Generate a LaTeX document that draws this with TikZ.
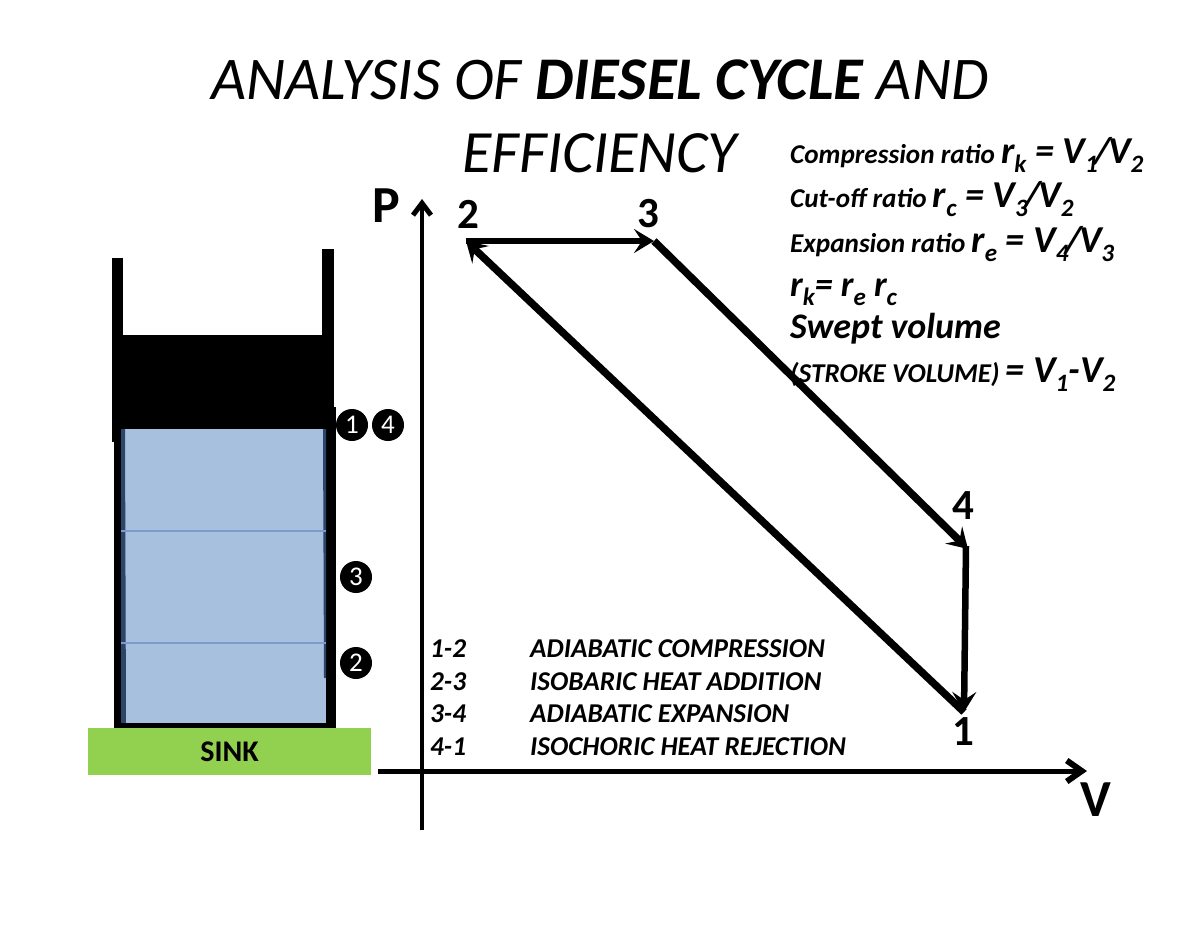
\documentclass[tikz,border=0pt]{standalone}
\usepackage{fontspec}
\setmainfont{Carlito}
\usetikzlibrary{arrows.meta}
\newcommand{\fsz}[1]{\fontsize{#1}{#1}\selectfont}
\newcommand{\sbs}[1]{\raisebox{-0.26em}{\fontsize{25}{25}\selectfont #1}}
\newcommand{\slsh}{\kern-3pt/\kern-3pt}
\definecolor{gasblue}{HTML}{A7C0DE}
\definecolor{gasline}{HTML}{7C9CCB}
\definecolor{walldark}{HTML}{2C4568}
\definecolor{sinkgreen}{HTML}{92D050}
\tikzset{
  wall/.style={fill=black,draw=none},
  txt/.style={anchor=base west,inner sep=0pt,font=\fsz{27.2}\bfseries\itshape},
  eq/.style={anchor=base west,inner sep=0pt,font=\fsz{36}\bfseries\itshape},
  legend/.style={anchor=base west,inner sep=0pt,font=\fsz{27.2}\bfseries\itshape},
  ptlabel/.style={inner sep=0pt,font=\fsz{43}\bfseries},
  axislabel/.style={inner sep=0pt,font=\fsz{52}\bfseries},
  marker/.style={circle,fill=black,text=white,inner sep=0pt,minimum size=32pt,font=\fsz{27}},
  tiphead/.style={-{Stealth[length=20pt,width=24pt,inset=8pt]}},
  phead/.style={-{Straight Barb[length=12pt,width=18pt,line width=5pt]}},
  vhead/.style={-{Straight Barb[length=15pt,width=21pt,line width=6pt]}},
}
\begin{document}
\begin{tikzpicture}[x=1pt,y=-1pt]
\useasboundingbox (0,0) rectangle (1200,927);
% title
\node[inner sep=0pt,font=\fsz{60.6}\itshape] (title1) at (600,80) {ANALYSIS OF \textbf{DIESEL CYCLE} AND};
\node[inner sep=0pt,font=\fsz{60}\itshape] (title2) at (600,153) {EFFICIENCY};
% cylinder
\fill[wall] (112,258) rectangle (123,442);
\fill[wall] (322,249) rectangle (334,430);
\fill[wall] (112,335) rectangle (334,429);
\fill[wall] (114,429) rectangle (122,728);
\fill[wall] (325,407) rectangle (336,728);
\fill[gasblue] (121,429) rectangle (326,723);
\fill[walldark] (121,429) -- (125,429) -- (126,723) -- (121,723) -- cycle;
\fill[walldark] (323,429) -- (326,429) -- (326,678) -- (324,678) -- cycle;
\fill[black] (114,723) rectangle (336,728);
\draw[gasline,line width=1.2pt] (121,531) -- (326,531);
\draw[gasline,line width=1.2pt] (121,643) -- (326,643);
\node[fill=sinkgreen,minimum width=283pt,minimum height=47pt,inner sep=0pt,font=\fsz{30}\bfseries] (sink) at (229.5,751.5) {SINK};
% circled markers
\node[marker] (m1) at (352,425) {1};
\node[marker] (m4) at (388,425) {4};
\node[marker] (m3) at (356,577) {3};
\node[marker] (m2) at (356,663) {2};
% axes
\coordinate (porigin) at (422,830);
\coordinate (ptip) at (422,199);
\coordinate (vorigin) at (378,771);
\coordinate (vtip) at (1087,771);
\draw[line width=4.5pt,phead] (porigin) -- (ptip);
\draw[line width=5pt,vhead] (vorigin) -- (vtip);
\node[axislabel] (plabel) at (386,206) {P};
\node[axislabel] (vlabel) at (1096,800) {V};
% cycle
\coordinate (c1) at (964,712);
\coordinate (c2) at (466,241);
\coordinate (c3) at (654,241);
\coordinate (c4) at (968,549);
\coordinate (c4b) at (966,546);
\draw[line width=7.5pt,tiphead] (c1) -- (c2);
\draw[line width=6pt,tiphead] (c2) -- (c3);
\draw[line width=7.5pt,tiphead] (c3) -- (c4);
\draw[line width=6.5pt,tiphead] (c4b) -- (c1);
\node[ptlabel] (l2) at (468,214) {2};
\node[ptlabel] (l3) at (648,214) {3};
\node[ptlabel] (l4) at (963,506) {4};
\node[ptlabel] (l1) at (963,732) {1};
% legend
\node[legend] (a1) at (430,657) {1-2};
\node[legend] (b1) at (530,657) {ADIABATIC COMPRESSION};
\node[legend] (a2) at (430,690) {2-3};
\node[legend] (b2) at (530,690) {ISOBARIC HEAT ADDITION};
\node[legend] (a3) at (430,722) {3-4};
\node[legend] (b3) at (530,722) {ADIABATIC EXPANSION};
\node[legend] (a4) at (430,755) {4-1};
\node[legend] (b4) at (530,755) {ISOCHORIC HEAT REJECTION};
% equations
\node[txt] (e1) at (790,163) {Compression ratio {\fsz{38}r\sbs{k} = V\sbs{1}\slsh V\sbs{2}}};
\node[txt] (e2) at (790,207) {Cut-off ratio {\fsz{38}r\sbs{c} = V\sbs{3}\slsh V\sbs{2}}};
\node[txt] (e3) at (790,252) {Expansion ratio {\fsz{38}r\sbs{e} = V\sbs{4}\slsh V\sbs{3}}};
\node[eq] (e4) at (790,296) {r\sbs{k}= r\sbs{e} r\sbs{c}};
\node[eq] (e5) at (790,338) {Swept volume};
\node[txt] (e6) at (790,382) {(STROKE VOLUME) {\fsz{38}= V\sbs{1}-V\sbs{2}}};
\end{tikzpicture}
\end{document}
